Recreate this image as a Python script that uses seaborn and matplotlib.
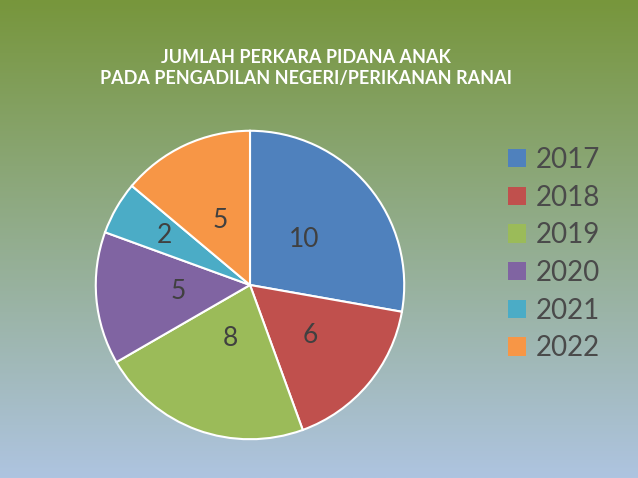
import numpy as np
import matplotlib
matplotlib.use("Agg")
import matplotlib.pyplot as plt
from matplotlib.colors import LinearSegmentedColormap
from matplotlib.patches import Patch
import seaborn as sns

years = ["2017", "2018", "2019", "2020", "2021", "2022"]
cases = [10, 6, 8, 5, 2, 5]
slice_colors = ["#4F81BD", "#C0504D", "#9BBB59", "#8064A2", "#4BACC6", "#F79646"]
title = "JUMLAH PERKARA PIDANA ANAK\nPADA PENGADILAN NEGERI/PERIKANAN RANAI"

sns.set_theme(style="white")
plt.rcParams["font.family"] = ["Lato", "DejaVu Sans"]
palette = sns.color_palette(slice_colors)

fig = plt.figure(figsize=(6.38, 4.78), dpi=100)

# gradient background
bg = fig.add_axes([0, 0, 1, 1], zorder=0)
grad = np.linspace(0, 1, 256).reshape(-1, 1)
cmap = LinearSegmentedColormap.from_list("bg", ["#77963c", "#aec4e0"])
bg.imshow(grad, aspect="auto", cmap=cmap, extent=[0, 1, 0, 1], origin="upper")
bg.axis("off")

ax = fig.add_axes([95 / 638, 38 / 478, 310 / 638, 310 / 478], zorder=1)
ax.patch.set_alpha(0)
wedges, texts = ax.pie(cases, colors=palette, startangle=90, counterclock=False,
                       labels=[str(v) for v in cases], labeldistance=1.0,
                       wedgeprops=dict(edgecolor="white", linewidth=1.5),
                       textprops=dict(fontsize=19, color="#404040", ha="center", va="center"))
# excel-like label placement inside the slices
label_r = [0.46, 0.51, 0.37, 0.47, 0.64, 0.46]
for t, r in zip(texts, label_r):
    x, y = t.get_position()
    t.set_position((x * r, y * r))
    t.set_ha("center")
ax.set_xlim(-1.005, 1.005)
ax.set_ylim(-1.005, 1.005)
ax.set_aspect("equal")

fig.text(306 / 638, 1 - 68 / 478, title, ha="center", va="center", color="white",
         fontsize=13, fontweight="bold", linespacing=1.33)

handles = [Patch(facecolor=c, edgecolor="none") for c in palette]
fig.legend(handles, years, loc="upper left", bbox_to_anchor=(494 / 638, 1 - 133 / 478),
           frameon=False, fontsize=20, labelcolor="#4a4a4a", handlelength=0.65,
           handleheight=0.65, handletextpad=0.35, labelspacing=0.42, borderpad=0)

fig.savefig("out.png", dpi=100)
